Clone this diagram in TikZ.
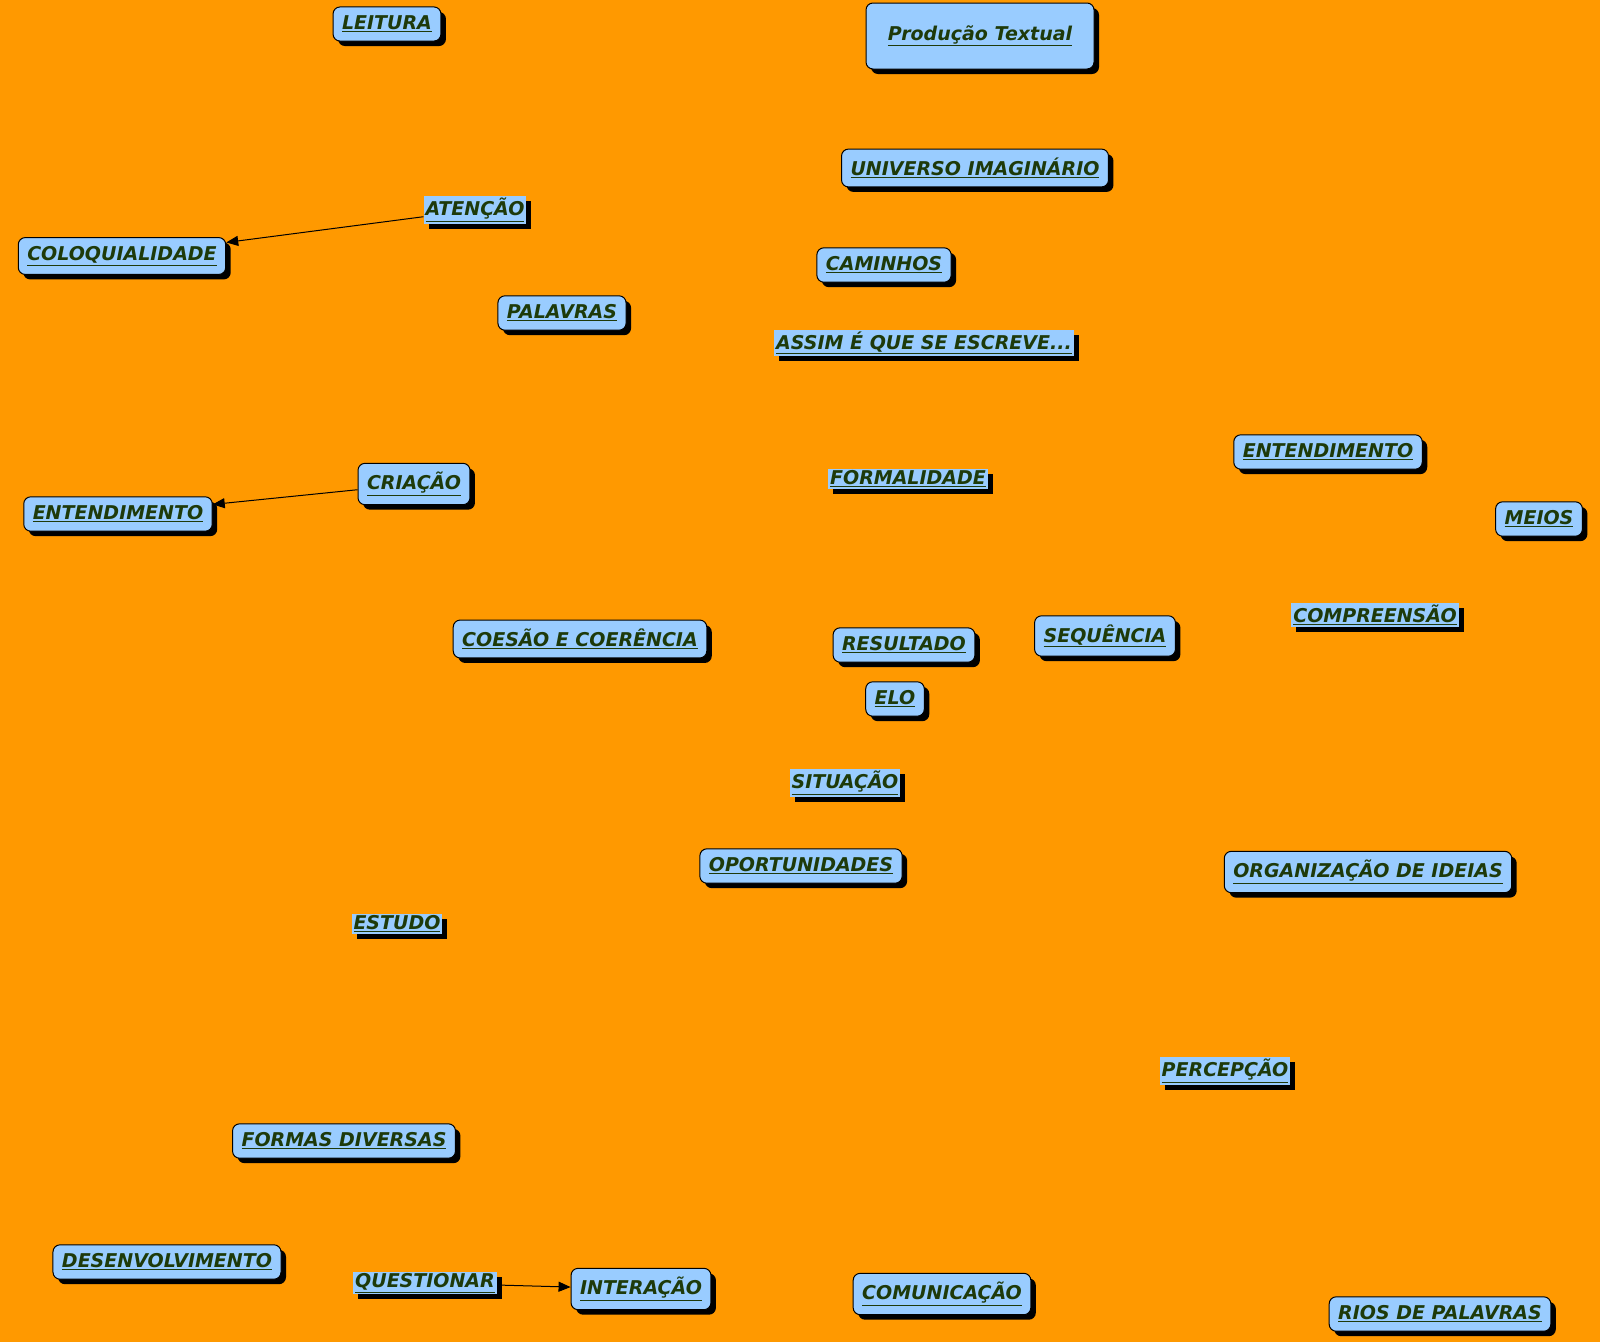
\documentclass[tikz,border=0pt]{standalone}
\usepackage{fontspec}
\setmainfont{DejaVu Sans}
\usetikzlibrary{shadows,backgrounds,arrows.meta}
\definecolor{bg}{HTML}{FF9900}
\definecolor{bx}{HTML}{99CCFF}
\definecolor{tx}{HTML}{1E3A0A}
\newcommand{\myu}[1]{\underline{#1}}
\tikzset{
 cbox/.style={draw=black, line width=1pt, fill=bx, rounded corners=7pt, inner xsep=9pt, inner ysep=9pt,
   font=\fontsize{19}{22}\selectfont\bfseries\itshape, text=tx,
   drop shadow={shadow xshift=5pt, shadow yshift=-5pt, fill=black, opacity=1}},
 lbl/.style={fill=bx, inner xsep=2pt, inner ysep=2pt,
   font=\fontsize{19}{22}\selectfont\bfseries\itshape, text=tx,
   drop shadow={shadow xshift=5pt, shadow yshift=-5pt, fill=black, opacity=1}},
 ln/.style={black, line width=1pt},
 ar/.style={ln, -{Triangle[length=12pt,width=10pt]}}
}
\begin{document}
\begin{tikzpicture}[x=1pt,y=-1pt]
\useasboundingbox (0,0) rectangle (1600,1342);
\fill[bg] (0,0) rectangle (1600,1342);
\node[cbox] (leitura) at (387,24) {\myu{LEITURA}};
\node[cbox, minimum height=66pt, minimum width=228pt] (prod) at (980,36) {\myu{Produção Textual}};
\node[cbox] (univ) at (975,168) {\myu{UNIVERSO IMAGINÁRIO}};
\node[lbl] (atencao) at (475,210) {\myu{ATENÇÃO}};
\node[cbox] (coloq) at (122,256) {\myu{COLOQUIALIDADE}};
\node[cbox] (caminhos) at (884,265) {\myu{CAMINHOS}};
\node[cbox] (palavras) at (562,313) {\myu{PALAVRAS}};
\node[lbl] (assim) at (924,343) {\myu{ASSIM É QUE SE ESCREVE...}};
\node[cbox] (entR) at (1328,452) {\myu{ENTENDIMENTO}};
\node[cbox] (meios) at (1539,519) {\myu{MEIOS}};
\node[cbox] (criacao) at (414,484) {\myu{CRIAÇÃO}};
\node[cbox] (entL) at (118,514) {\myu{ENTENDIMENTO}};
\node[lbl] (formal) at (908,479) {\myu{FORMALIDADE}};
\node[lbl] (compre) at (1375,615) {\myu{COMPREENSÃO}};
\node[cbox] (coesao) at (580,639) {\myu{COESÃO E COERÊNCIA}};
\node[cbox] (result) at (904,645) {\myu{RESULTADO}};
\node[cbox] (seq) at (1105,636) {\myu{SEQUÊNCIA}};
\node[cbox] (elo) at (895,699) {\myu{ELO}};
\node[lbl] (sit) at (845,783) {\myu{SITUAÇÃO}};
\node[cbox] (oport) at (801,866) {\myu{OPORTUNIDADES}};
\node[cbox] (org) at (1368,872) {\myu{ORGANIZAÇÃO DE IDEIAS}};
\node[lbl] (estudo) at (397,924) {\myu{ESTUDO}};
\node[lbl] (perc) at (1225,1071) {\myu{PERCEPÇÃO}};
\node[cbox] (formas) at (344,1141) {\myu{FORMAS DIVERSAS}};
\node[cbox] (desenv) at (167,1262) {\myu{DESENVOLVIMENTO}};
\node[lbl] (quest) at (425,1283) {\myu{QUESTIONAR}};
\node[cbox] (inter) at (641,1289) {\myu{INTERAÇÃO}};
\node[cbox] (comun) at (942,1294) {\myu{COMUNICAÇÃO}};
\node[cbox] (rios) at (1440,1314) {\myu{RIOS DE PALAVRAS}};
\begin{scope}[on background layer]
\draw[ln] (leitura) -- (univ);
\draw[ln] (leitura) -- (atencao);
\draw[ln] (prod) -- (univ);
\draw[ln] ([xshift=-10pt]univ.center) -- ([xshift=6pt]assim.center);
\draw[ln] (caminhos) -- (formal);
\draw[ln] (formal) -- (result);
\draw[ln] (assim) -- (coesao);
\draw[ln] ([xshift=-10pt]assim.center) -- (seq);
\draw[ln] (univ) -- (entR);
\draw[ln] (entR) -- (meios);
\draw[ln] ([xshift=-20pt]entR.center) -- (compre);
\draw[ln] (compre) -- (org);
\draw[ln] (org) -- (perc);
\draw[ln] (perc) -- (rios);
\draw[ln] (palavras) -- (criacao);
\draw[ln] (coloq) -- (estudo);
\draw[ln] (estudo) -- (inter);
\draw[ln] (elo) -- (sit);
\draw[ln] ([xshift=-10pt]sit.center) -- (oport);
\draw[ln] (sit) -- (comun);
\draw[ln] (desenv.south east) -- ([xshift=2pt]quest.south west);
\end{scope}
\draw[ar] (atencao) -- (coloq);
\draw[ar] (criacao) -- (entL);
\draw[ar] (quest) -- (inter);
\end{tikzpicture}
\end{document}
